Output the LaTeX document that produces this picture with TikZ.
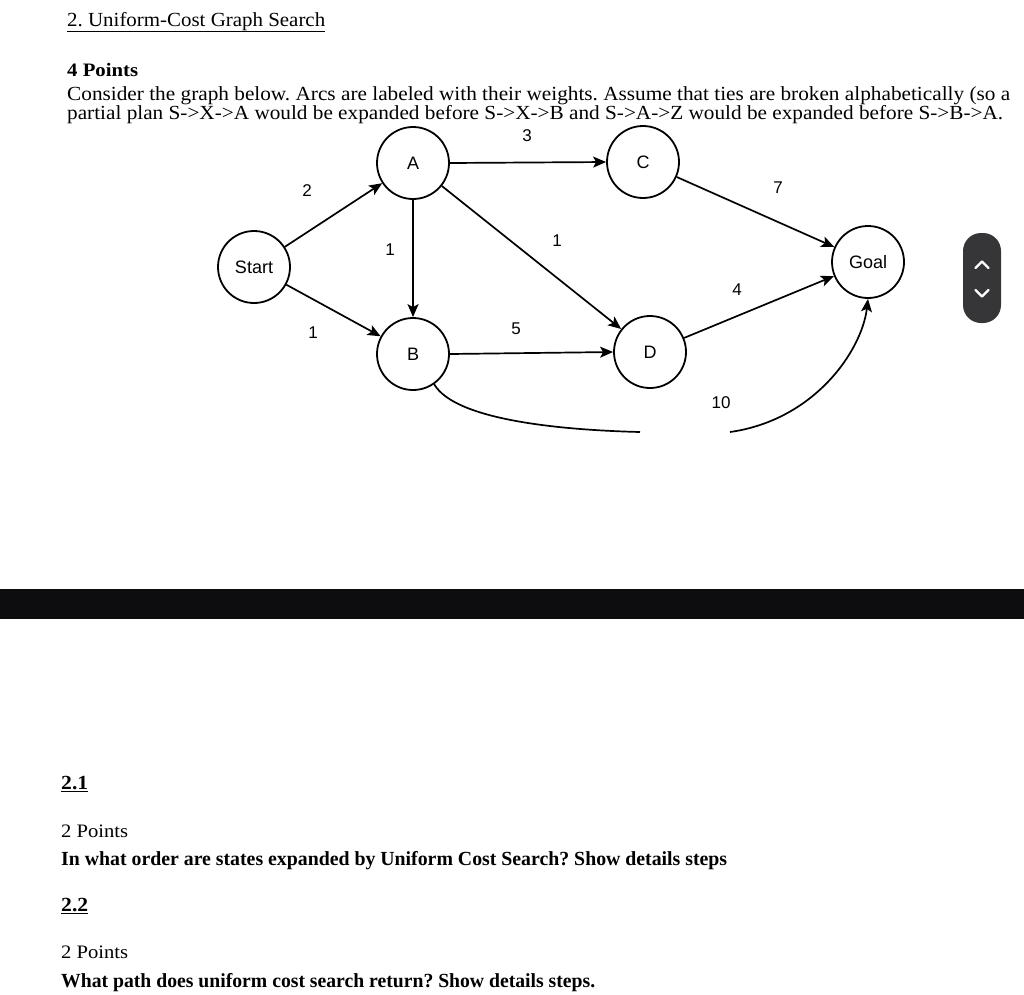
\documentclass[tikz,border=0pt]{standalone}
\usepackage{fontspec}
\usepackage{graphicx}
\setmainfont{Liberation Serif}
\newfontfamily\sansf{Liberation Sans}
\usetikzlibrary{arrows.meta}
\definecolor{barcol}{HTML}{0D0D0F}
\definecolor{pillcol}{HTML}{363638}
\newcommand{\fitw}[2]{\resizebox{#1}{\height}{#2}}
\frenchspacing
\begin{document}
\begin{tikzpicture}[x=1pt,y=-1pt,
  statenode/.style={circle,draw,line width=1.8pt,minimum size=72pt,inner sep=0pt,font=\sansf\fontsize{18}{18}\selectfont},
  edge/.style={line width=1.7pt,-{Stealth[length=13pt,width=11pt,inset=3pt]}},
  plainedge/.style={line width=1.7pt},
  wlabel/.style={font=\sansf\fontsize{17}{17}\selectfont,inner sep=0pt},
  txt/.style={anchor=base west,inner sep=0pt,font=\fontsize{20}{20}\selectfont},
  btxt/.style={anchor=base west,inner sep=0pt,font=\bfseries\fontsize{20}{20}\selectfont},
  small/.style={anchor=base west,inner sep=0pt,font=\fontsize{19}{20}\selectfont}]
\useasboundingbox (0,0) rectangle (1024,994);
\fill[white] (0,0) rectangle (1024,994);

% header text
\node[txt] (title) at (67,26) {\fitw{258pt}{\underline{2. Uniform-Cost Graph Search}}};
\node[btxt,font=\bfseries\fontsize{19}{20}\selectfont] (pts) at (67,76) {\fitw{71pt}{4 Points}};
\node[txt] (l1) at (67,100.5) {\fitw{943pt}{Consider the graph below. Arcs are labeled with their weights. Assume that ties are broken alphabetically (so a}};
\node[txt] (l2) at (67,119) {\fitw{936pt}{partial plan S->X->A would be expanded before S->X->B and S->A->Z would be expanded before S->B->A.}};

% graph
\node[statenode] (S) at (254,267) {Start};
\node[statenode] (A) at (413,163) {A};
\node[statenode] (B) at (413,354) {B};
\node[statenode] (C) at (643,162) {C};
\node[statenode] (D) at (650,352) {D};
\node[statenode] (G) at (868,262) {Goal};

\draw[edge] (S) -- (A);
\draw[edge] (S) -- (B);
\draw[edge] (A) -- (B);
\draw[edge] (A.east) -- (C.west);
\draw[edge] (A) -- (D);
\draw[edge] (B.east) -- (D.west);
\draw[edge] (C) -- (G);
\draw[edge] (D) -- (G);
\coordinate (gapL) at (640,432);
\coordinate (gapR) at (730,432);
\draw[plainedge] (B.-55) .. controls (455,420) and (560,430) .. (gapL);
\draw[edge] (gapR) .. controls (815,420) and (862,350) .. (G.south);

\node[wlabel] (w3) at (527,136) {3};
\node[wlabel] (w2) at (307,191) {2};
\node[wlabel] (w1a) at (390,250) {1};
\node[wlabel] (w1b) at (557,241) {1};
\node[wlabel] (w1c) at (313,333) {1};
\node[wlabel] (w5) at (516,329) {5};
\node[wlabel] (w7) at (778,188) {7};
\node[wlabel] (w4) at (737,290) {4};
\node[wlabel] (w10) at (721,403) {10};

% scroll widget
\fill[pillcol,rounded corners=18pt] (963,233) rectangle (1001,323);
\draw[white,line width=2.4pt,line cap=round,line join=round] (975.5,268) -- (982,261.5) -- (988.5,268);
\draw[white,line width=2.4pt,line cap=round,line join=round] (975.5,290) -- (982,296.5) -- (988.5,290);

% black bar
\fill[barcol] (0,589) rectangle (1024,619);

% bottom text
\node[btxt] (s21) at (61,789) {\fitw{27pt}{\underline{2.1}}};
\node[small] (p1) at (61,837) {\fitw{67pt}{2 Points}};
\node[btxt] (q1) at (61,865) {\fitw{666pt}{In what order are states expanded by Uniform Cost Search? Show details steps}};
\node[btxt] (s22) at (61,911) {\fitw{27pt}{\underline{2.2}}};
\node[small] (p2) at (61,958) {\fitw{67pt}{2 Points}};
\node[btxt] (q2) at (61,987) {\fitw{534pt}{What path does uniform cost search return? Show details steps.}};
\end{tikzpicture}
\end{document}
